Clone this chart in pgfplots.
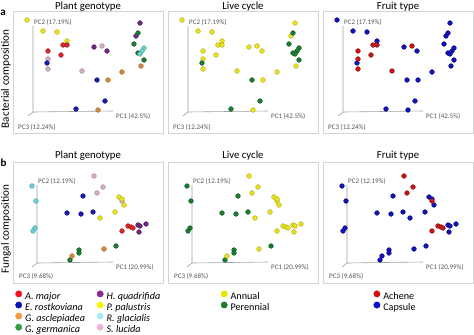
\documentclass[border=0pt]{standalone}
\usepackage{pgfplots}
\pgfplotsset{compat=1.18}
\usepackage{pgfplotstable}
\usepackage{fontspec}
\setmainfont{Carlito}

% plot colours
\definecolor{cAM}{HTML}{D42A2A}
\definecolor{cER}{HTML}{1C1CA8}
\definecolor{cGA}{HTML}{D08A40}
\definecolor{cGG}{HTML}{1F7A32}
\definecolor{cHQ}{HTML}{6E2A7E}
\definecolor{cPP}{HTML}{E8E020}
\definecolor{cRG}{HTML}{6CCFD2}
\definecolor{cSL}{HTML}{D2AEC4}
\definecolor{cAnn}{HTML}{E8E020}
\definecolor{cPer}{HTML}{1F7A32}
\definecolor{cAch}{HTML}{C41818}
\definecolor{cCap}{HTML}{1414B4}
% legend colours
\definecolor{lAM}{HTML}{F0141E}
\definecolor{lER}{HTML}{0A14B4}
\definecolor{lGA}{HTML}{F39A3A}
\definecolor{lGG}{HTML}{2EA040}
\definecolor{lHQ}{HTML}{8A2C92}
\definecolor{lPP}{HTML}{FAF000}
\definecolor{lRG}{HTML}{A6ECF2}
\definecolor{lSL}{HTML}{F2B2D8}
\definecolor{lAnn}{HTML}{E6E600}
\definecolor{lPer}{HTML}{1E7A2E}
\definecolor{lAch}{HTML}{D01010}
\definecolor{lCap}{HTML}{0A0AD2}
\definecolor{boxgray}{HTML}{D4D4D4}
\definecolor{axgray}{HTML}{A0A0A0}
\definecolor{labgray}{HTML}{555555}

% ---- bacterial composition (row a), projected PCA positions ----
\pgfplotstableread{
x y
63 45
67 45
48 51
61 55
}\amA
\pgfplotstableread{
x y
47 63
97 80
105 101
76 109
}\erA
\pgfplotstableread{
x y
108 80
122 72
98 110
141 66
}\gaA
\pgfplotstableread{
x y
138 33
134 44
138 53
144 60
}\ggA
\pgfplotstableread{
x y
140 23
136 36
94 47
107 51
}\hqA
\pgfplotstableread{
x y
27 20
43 31
57 32
67 41
}\ppA
\pgfplotstableread{
x y
144 48
142 51
140 54
}\rgA
\pgfplotstableread{
x y
48 59
48 69
102 46
82 71
}\slA
% ---- fungal composition (row b) ----
\pgfplotstableread{
x y
128 226
131 227
133 228
122 231
}\amB
\pgfplotstableread{
x y
83 196
67 213
81 214
93 212
}\erB
\pgfplotstableread{
x y
104 249
72 256
}\gaB
\pgfplotstableread{
x y
116 246
79 250
79 253
70 260
}\ggB
\pgfplotstableread{
x y
138 225
140 226
146 224
139 232
}\hqB
\pgfplotstableread{
x y
119 197
122 199
124 205
115 212
100 218
}\ppB
\pgfplotstableread{
x y
32 186
36 201
35 228
33 231
}\rgB
\pgfplotstableread{
x y
94 176
103 187
97 193
122 201
}\slB

\pgfplotsset{
  panel/.style={scale only axis, width=150bp, xmin=13, xmax=163, y dir=reverse,
    xtick=\empty, ytick=\empty, axis line style={draw=boxgray, line width=0.6bp},
    clip=false, every axis title shift=0pt,
    title style={font=\fontsize{10.8}{13}\selectfont, anchor=base, at={(0.5,1)}, inner sep=0pt}},
  rowa/.style={panel, height=122bp, ymin=11, ymax=133, title style={yshift=2bp}},
  rowb/.style={panel, height=121bp, ymin=162, ymax=283, title style={yshift=4bp}},
  pt/.style={only marks, mark=*, mark size=2.4bp, mark options={draw=#1!75!black, fill=#1, line width=0.35bp}},
  pcax/.style={no marks, color=axgray, line width=0.6bp, forget plot},
  legbox/.style={scale only axis, width=5bp, height=5bp, hide axis, xmin=0, xmax=1, ymin=0, ymax=1,
    anchor=north west,
    legend cell align=left,
    legend image code/.code={\fill[##1] (3.2bp,3bp) circle[radius=3.2bp];},
    legend style={at={(0,1)}, anchor=north west, draw=none, fill=none, inner sep=0pt, outer sep=0pt,
      row sep=0.2bp, column sep=3bp, font=\fontsize{10.2}{12}\selectfont,
      nodes={inner sep=0pt, text height=7bp, text depth=2bp}}},
}
\tikzset{lab/.style={font=\fontsize{7}{8}\selectfont, text=labgray, inner sep=0pt}}

\newcommand{\pcaxesA}{%
  \addplot[pcax] coordinates {(33,26) (33,112) (113,111)};
  \addplot[pcax] coordinates {(33,112) (28,116)};
  \node[lab,anchor=west] at (axis cs:34,22) {PC2 (17.19\%)};
  \node[lab,anchor=west] at (axis cs:116,116) {PC1 (42.5\%)};
  \node[lab,anchor=west] at (axis cs:18,127) {PC3 (12.24\%)};
}
\newcommand{\pcaxesB}{%
  \addplot[pcax] coordinates {(37,185) (37,263) (113,262)};
  \addplot[pcax] coordinates {(37,263) (32,267)};
  \node[lab,anchor=west] at (axis cs:38,181) {PC2 (12.19\%)};
  \node[lab,anchor=west] at (axis cs:116,267) {PC1 (20.99\%)};
  \node[lab,anchor=west] at (axis cs:19,276) {PC3 (9.68\%)};
}

\begin{document}
\begin{tikzpicture}
\path[use as bounding box] (0,0) rectangle (474bp,-335bp);

\node[font=\bfseries\fontsize{11}{13}\selectfont, inner sep=0pt] at (3bp,-13bp) {a};
\node[font=\bfseries\fontsize{11}{13}\selectfont, inner sep=0pt] at (3.5bp,-163bp) {b};
\node[rotate=90, font=\fontsize{11.2}{13}\selectfont, inner sep=0pt] at (6bp,-79bp) {Bacterial composition};
\node[rotate=90, font=\fontsize{11.2}{13}\selectfont, inner sep=0pt] at (6bp,-229bp) {Fungal composition};

% ===== row a =====
\begin{axis}[rowa, at={(13bp,-11bp)}, anchor=north west, title={Plant genotype}]
\pcaxesA
\addplot[pt=cPP] table {\ppA};
\addplot[pt=cSL] table {\slA};
\addplot[pt=cER] table {\erA};
\addplot[pt=cAM] table {\amA};
\addplot[pt=cHQ] table {\hqA};
\addplot[pt=cGA] table {\gaA};
\addplot[pt=cGG] table {\ggA};
\addplot[pt=cRG] table {\rgA};
\end{axis}
\begin{axis}[rowa, at={(168bp,-11bp)}, anchor=north west, title={Live cycle}]
\pcaxesA
\addplot[pt=cAnn] table {\ppA};
\addplot[pt=cAnn] table {\slA};
\addplot[pt=cPer] table {\erA};
\addplot[pt=cAnn] table {\amA};
\addplot[pt=cAnn] table {\hqA};
\addplot[pt=cAnn] table {\gaA};
\addplot[pt=cPer] table {\ggA};
\addplot[pt=cPer] table {\rgA};
\end{axis}
\begin{axis}[rowa, at={(323bp,-11bp)}, anchor=north west, title={Fruit type}]
\pcaxesA
\addplot[pt=cCap] table {\ppA};
\addplot[pt=cCap] table {\erA};
\addplot[pt=cCap] table {\hqA};
\addplot[pt=cCap] table {\gaA};
\addplot[pt=cCap] table {\ggA};
\addplot[pt=cCap] table {\rgA};
\addplot[pt=cAch] table {\slA};
\addplot[pt=cAch] table {\amA};
\end{axis}

% ===== row b =====
\begin{axis}[rowb, at={(13bp,-162bp)}, anchor=north west, title={Plant genotype}]
\pcaxesB
\addplot[pt=cRG] table {\rgB};
\addplot[pt=cSL] table {\slB};
\addplot[pt=cER] table {\erB};
\addplot[pt=cPP] table {\ppB};
\addplot[pt=cAM] table {\amB};
\addplot[pt=cHQ] table {\hqB};
\addplot[pt=cGG] table {\ggB};
\addplot[pt=cGA] table {\gaB};
\end{axis}
\begin{axis}[rowb, at={(168bp,-162bp)}, anchor=north west, title={Live cycle}]
\pcaxesB
\addplot[pt=cPer] table {\rgB};
\addplot[pt=cAnn] table {\slB};
\addplot[pt=cPer] table {\erB};
\addplot[pt=cAnn] table {\ppB};
\addplot[pt=cAnn] table {\amB};
\addplot[pt=cAnn] table {\hqB};
\addplot[pt=cPer] table {\ggB};
\addplot[pt=cAnn] table {\gaB};
\end{axis}
\begin{axis}[rowb, at={(323bp,-162bp)}, anchor=north west, title={Fruit type}]
\pcaxesB
\addplot[pt=cCap] table {\rgB};
\addplot[pt=cCap] table {\erB};
\addplot[pt=cCap] table {\ppB};
\addplot[pt=cCap] table {\hqB};
\addplot[pt=cCap] table {\ggB};
\addplot[pt=cCap] table {\gaB};
\addplot[pt=cAch] table {\slB};
\addplot[pt=cAch] table {\amB};
\end{axis}

% ===== legends =====
\begin{axis}[legbox, at={(15.3bp,-290.5bp)}]
\addlegendimage{lAM}\addlegendentry{\textit{A. major}}
\addlegendimage{lER}\addlegendentry{\textit{E. rostkoviana}}
\addlegendimage{lGA}\addlegendentry{\textit{G. asclepiadea}}
\addlegendimage{lGG}\addlegendentry{\textit{G. germanica}}
\end{axis}
\begin{axis}[legbox, at={(96.8bp,-290.5bp)}]
\addlegendimage{lHQ}\addlegendentry{\textit{H. quadrifida}}
\addlegendimage{lPP}\addlegendentry{\textit{P. palustris}}
\addlegendimage{lRG}\addlegendentry{\textit{R. glacialis}}
\addlegendimage{lSL}\addlegendentry{\textit{S. lucida}}
\end{axis}
\begin{axis}[legbox, at={(220.8bp,-290.5bp)}]
\addlegendimage{lAnn}\addlegendentry{Annual}
\addlegendimage{lPer}\addlegendentry{Perennial}
\end{axis}
\begin{axis}[legbox, at={(373.5bp,-290.5bp)}]
\addlegendimage{lAch}\addlegendentry{Achene}
\addlegendimage{lCap}\addlegendentry{Capsule}
\end{axis}
\end{tikzpicture}
\end{document}
